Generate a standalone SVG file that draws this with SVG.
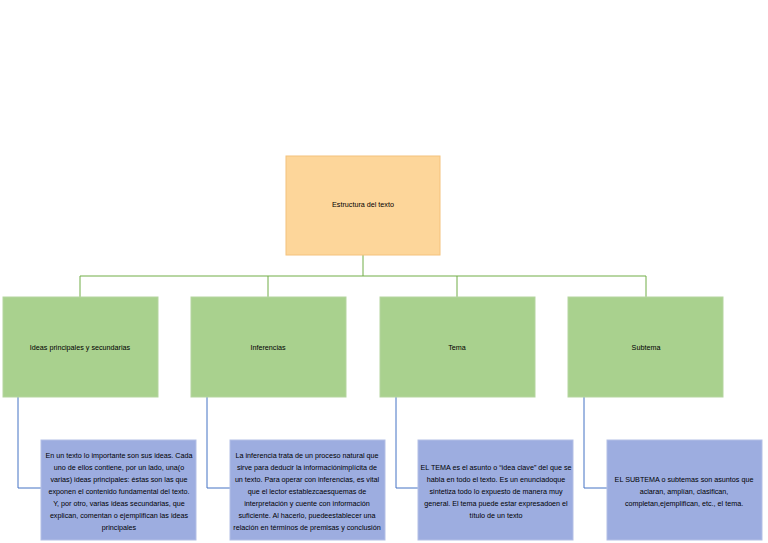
<svg xmlns="http://www.w3.org/2000/svg" width="768" height="543" viewBox="0 0 768 543">
<style>
text{font-family:"Liberation Sans",Arial,sans-serif;font-size:7.2px;fill:#000;text-anchor:middle}
.g{fill:#a9d18e;stroke:#b5d59f;stroke-width:1}
.b{fill:#9dade0;stroke:#b3bfe6;stroke-width:1}
.cg{stroke:#70ad47;stroke-width:1;fill:none}
.cb{stroke:#4472c4;stroke-width:1;fill:none}
</style>
<rect width="768" height="543" fill="#fff"/>
<g id="connectors">
<path class="cg" d="M363 255V276M80 297V276H646V297M268 276V297M457 276V297"/>
<path class="cb" d="M18 397V488H41M207 397V488H230M396 397V488H418M584 397V488H607"/>
</g>
<g id="root"><rect x="286" y="156" width="154" height="99" fill="#fdd69a" stroke="#f4c27c"/><text x="363" y="207">Estructura del texto</text></g>
<g id="n1"><rect class="g" x="3" y="297" width="155" height="100"/><text x="80" y="350">Ideas principales y secundarias</text></g>
<g id="n2"><rect class="g" x="191" y="297" width="155" height="100"/><text x="268" y="350">Inferencias</text></g>
<g id="n3"><rect class="g" x="380" y="297" width="155" height="100"/><text x="457" y="350">Tema</text></g>
<g id="n4"><rect class="g" x="568" y="297" width="155" height="100"/><text x="646" y="350">Subtema</text></g>
<g id="d1"><rect class="b" x="41" y="440" width="155" height="100"/>
<text x="119" y="458">En un texto lo importante son sus ideas. Cada</text>
<text x="119" y="470">uno de ellos contiene, por un lado, una(o</text>
<text x="119" y="482">varias) ideas principales: éstas son las que</text>
<text x="119" y="494">exponen el contenido fundamental del texto.</text>
<text x="119" y="506">Y, por otro, varias ideas secundarias, que</text>
<text x="119" y="518">explican, comentan o ejemplifican las ideas</text>
<text x="119" y="530">principales</text></g>
<g id="d2"><rect class="b" x="230" y="440" width="155" height="100"/>
<text x="307" y="458">La inferencia trata de un proceso natural que</text>
<text x="307" y="470">sirve para deducir la informaciónimplícita de</text>
<text x="307" y="482">un texto. Para operar con inferencias, es vital</text>
<text x="307" y="494">que el lector establezcaesquemas de</text>
<text x="307" y="506">interpretación y cuente con información</text>
<text x="307" y="518">suficiente. Al hacerlo, puedeestablecer una</text>
<text x="307" y="530">relación en términos de premisas y conclusión</text></g>
<g id="d3"><rect class="b" x="418" y="440" width="155" height="100"/>
<text x="496" y="470">EL TEMA es el asunto o “idea clave” del que se</text>
<text x="496" y="482">habla en todo el texto. Es un enunciadoque</text>
<text x="496" y="494">sintetiza todo lo expuesto de manera muy</text>
<text x="496" y="506">general. El tema puede estar expresadoen el</text>
<text x="496" y="518">título de un texto</text></g>
<g id="d4"><rect class="b" x="607" y="440" width="155" height="100"/>
<text x="684" y="482">EL SUBTEMA o subtemas son asuntos que</text>
<text x="684" y="494">aclaran, amplían, clasifican,</text>
<text x="684" y="506">completan,ejemplifican, etc., el tema.</text></g>
</svg>
